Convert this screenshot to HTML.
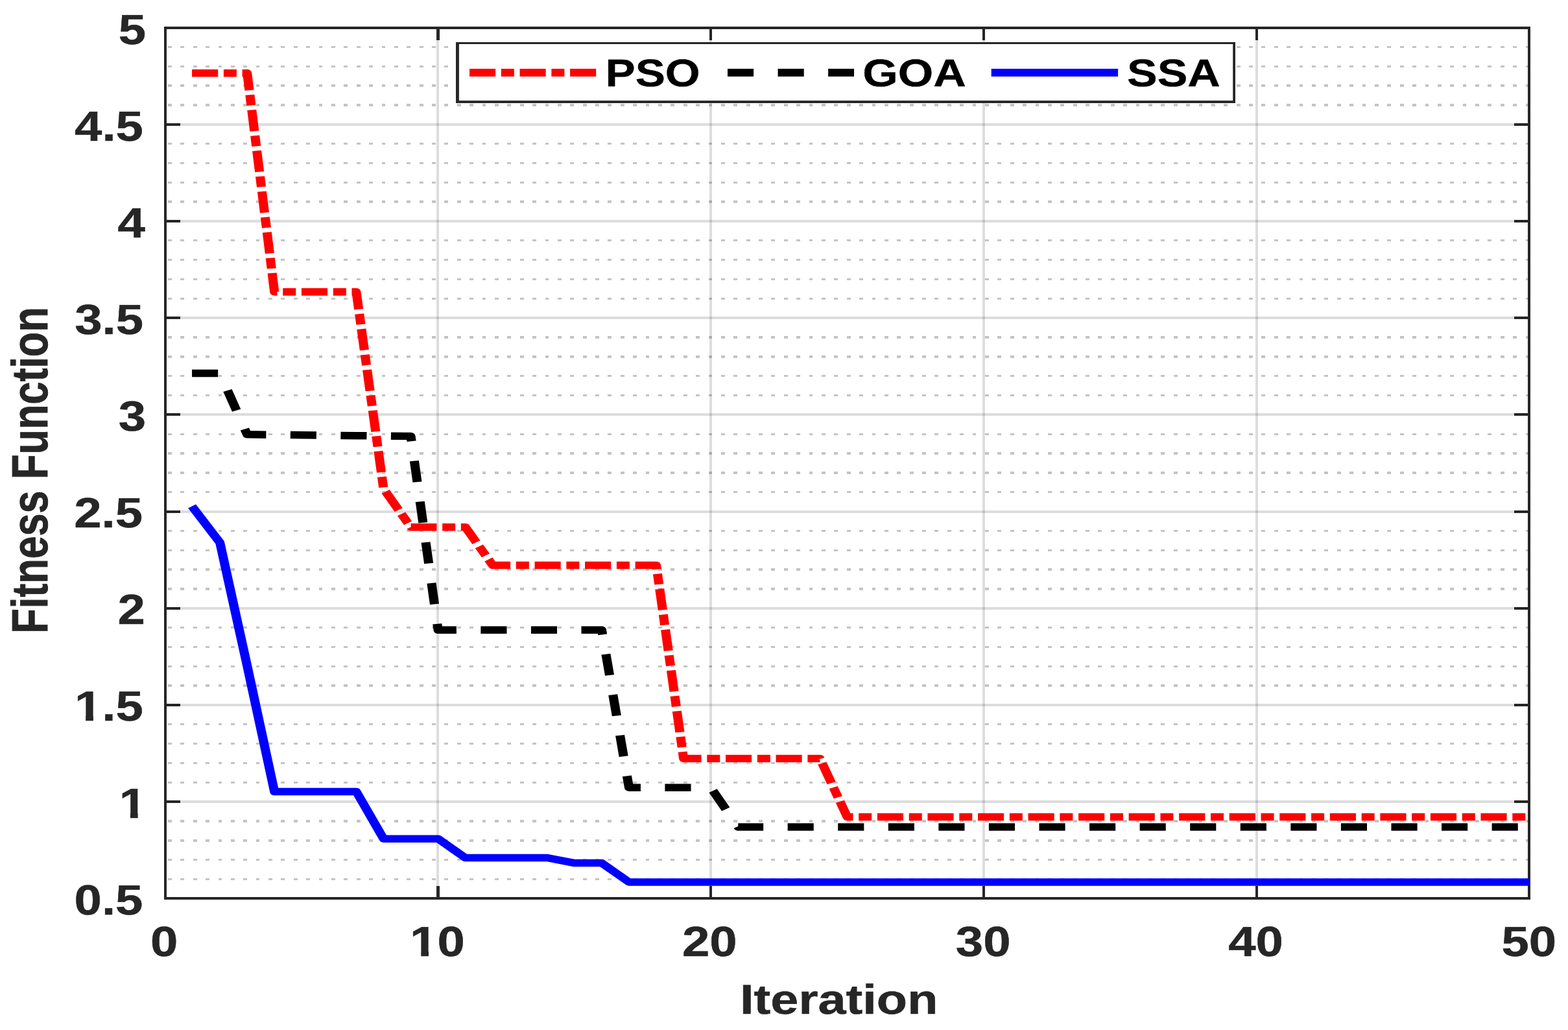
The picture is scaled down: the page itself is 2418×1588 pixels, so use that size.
<!DOCTYPE html>
<html lang="en"><head><meta charset="utf-8"><title>Fitness Function vs Iteration</title>
<style>html,body{margin:0;padding:0;background:#fff;}body{width:2418px;height:1588px;overflow:hidden;}svg{display:block;}text{font-family:"Liberation Sans",sans-serif;font-weight:bold;font-kerning:none;text-rendering:geometricPrecision;}</style>
</head><body>
<svg width="2418" height="1588" viewBox="0 0 2418 1588">
<rect x="0" y="0" width="2418" height="1588" fill="#ffffff"/>
<g stroke="#262626" stroke-opacity="0.27" stroke-dasharray="5.8 13.585" fill="none" shape-rendering="crispEdges">
<line x1="259" y1="1355.5" x2="2356" y2="1355.5" stroke-width="3"/>
<line x1="259" y1="1325.5" x2="2356" y2="1325.5" stroke-width="3"/>
<line x1="259" y1="1296.0" x2="2356" y2="1296.0" stroke-width="4"/>
<line x1="259" y1="1266.0" x2="2356" y2="1266.0" stroke-width="4"/>
<line x1="259" y1="1206.5" x2="2356" y2="1206.5" stroke-width="3"/>
<line x1="259" y1="1176.5" x2="2356" y2="1176.5" stroke-width="3"/>
<line x1="259" y1="1146.5" x2="2356" y2="1146.5" stroke-width="3"/>
<line x1="259" y1="1116.5" x2="2356" y2="1116.5" stroke-width="3"/>
<line x1="259" y1="1057.0" x2="2356" y2="1057.0" stroke-width="4"/>
<line x1="259" y1="1027.5" x2="2356" y2="1027.5" stroke-width="3"/>
<line x1="259" y1="997.5" x2="2356" y2="997.5" stroke-width="3"/>
<line x1="259" y1="967.5" x2="2356" y2="967.5" stroke-width="3"/>
<line x1="259" y1="908.0" x2="2356" y2="908.0" stroke-width="4"/>
<line x1="259" y1="878.0" x2="2356" y2="878.0" stroke-width="4"/>
<line x1="259" y1="848.5" x2="2356" y2="848.5" stroke-width="3"/>
<line x1="259" y1="818.5" x2="2356" y2="818.5" stroke-width="3"/>
<line x1="259" y1="758.5" x2="2356" y2="758.5" stroke-width="3"/>
<line x1="259" y1="729.0" x2="2356" y2="729.0" stroke-width="4"/>
<line x1="259" y1="699.0" x2="2356" y2="699.0" stroke-width="4"/>
<line x1="259" y1="669.5" x2="2356" y2="669.5" stroke-width="3"/>
<line x1="259" y1="609.5" x2="2356" y2="609.5" stroke-width="3"/>
<line x1="259" y1="579.5" x2="2356" y2="579.5" stroke-width="3"/>
<line x1="259" y1="550.0" x2="2356" y2="550.0" stroke-width="4"/>
<line x1="259" y1="520.0" x2="2356" y2="520.0" stroke-width="4"/>
<line x1="259" y1="460.5" x2="2356" y2="460.5" stroke-width="3"/>
<line x1="259" y1="430.5" x2="2356" y2="430.5" stroke-width="3"/>
<line x1="259" y1="400.5" x2="2356" y2="400.5" stroke-width="3"/>
<line x1="259" y1="370.5" x2="2356" y2="370.5" stroke-width="3"/>
<line x1="259" y1="311.0" x2="2356" y2="311.0" stroke-width="4"/>
<line x1="259" y1="281.5" x2="2356" y2="281.5" stroke-width="3"/>
<line x1="259" y1="251.5" x2="2356" y2="251.5" stroke-width="3"/>
<line x1="259" y1="221.5" x2="2356" y2="221.5" stroke-width="3"/>
<line x1="259" y1="162.0" x2="2356" y2="162.0" stroke-width="4"/>
<line x1="259" y1="132.0" x2="2356" y2="132.0" stroke-width="4"/>
<line x1="259" y1="102.5" x2="2356" y2="102.5" stroke-width="3"/>
<line x1="259" y1="72.5" x2="2356" y2="72.5" stroke-width="3"/>
</g>
<g stroke="#262626" stroke-opacity="0.155" fill="none" stroke-width="4">
<line x1="257" y1="1236.00" x2="2356" y2="1236.00"/>
<line x1="257" y1="1087.00" x2="2356" y2="1087.00"/>
<line x1="257" y1="938.00" x2="2356" y2="938.00"/>
<line x1="257" y1="789.00" x2="2356" y2="789.00"/>
<line x1="257" y1="639.00" x2="2356" y2="639.00"/>
<line x1="257" y1="490.00" x2="2356" y2="490.00"/>
<line x1="257" y1="341.00" x2="2356" y2="341.00"/>
<line x1="257" y1="192.00" x2="2356" y2="192.00"/>
<line x1="675.00" y1="45" x2="675.00" y2="1383"/>
<line x1="1096.00" y1="45" x2="1096.00" y2="1383"/>
<line x1="1517.00" y1="45" x2="1517.00" y2="1383"/>
<line x1="1938.00" y1="45" x2="1938.00" y2="1383"/>
</g>
<g stroke="#262626" fill="none" stroke-width="4">
<line x1="675.50" y1="1384" x2="675.50" y2="1366" stroke-width="5"/>
<line x1="675.50" y1="44" x2="675.50" y2="62" stroke-width="5"/>
<line x1="1096.00" y1="1384" x2="1096.00" y2="1366"/>
<line x1="1096.00" y1="44" x2="1096.00" y2="62"/>
<line x1="1517.00" y1="1384" x2="1517.00" y2="1366"/>
<line x1="1517.00" y1="44" x2="1517.00" y2="62"/>
<line x1="1938.00" y1="1384" x2="1938.00" y2="1366"/>
<line x1="1938.00" y1="44" x2="1938.00" y2="62"/>
<line x1="256" y1="1236.00" x2="278" y2="1236.00"/>
<line x1="2357" y1="1236.00" x2="2335" y2="1236.00"/>
<line x1="256" y1="1087.00" x2="278" y2="1087.00"/>
<line x1="2357" y1="1087.00" x2="2335" y2="1087.00"/>
<line x1="256" y1="938.00" x2="278" y2="938.00"/>
<line x1="2357" y1="938.00" x2="2335" y2="938.00"/>
<line x1="256" y1="789.00" x2="278" y2="789.00"/>
<line x1="2357" y1="789.00" x2="2335" y2="789.00"/>
<line x1="256" y1="639.00" x2="278" y2="639.00"/>
<line x1="2357" y1="639.00" x2="2335" y2="639.00"/>
<line x1="256" y1="490.00" x2="278" y2="490.00"/>
<line x1="2357" y1="490.00" x2="2335" y2="490.00"/>
<line x1="256" y1="341.00" x2="278" y2="341.00"/>
<line x1="2357" y1="341.00" x2="2335" y2="341.00"/>
<line x1="256" y1="192.00" x2="278" y2="192.00"/>
<line x1="2357" y1="192.00" x2="2335" y2="192.00"/>
</g>
<rect x="255" y="43" width="2103" height="1342" fill="none" stroke="#262626" stroke-width="4"/>
<g transform="scale(1.227,1)" fill="none" stroke-width="11.5" stroke-linejoin="round" stroke-linecap="butt">
<polyline stroke="#ff0000" stroke-dasharray="32.7 7.1 16.3 7.1" points="241.29,112.78 276.38,112.78 310.66,112.78 344.94,450.07 379.22,450.07 413.50,450.07 447.78,450.07 482.05,753.37 516.33,812.71 550.61,812.71 584.89,812.71 619.17,871.46 653.45,871.46 687.73,871.46 722.00,871.46 756.28,871.46 790.56,871.46 824.84,871.46 859.12,1169.39 893.40,1169.39 927.68,1169.39 961.96,1169.39 996.23,1169.39 1030.51,1169.39 1064.79,1259.54 1099.07,1259.54 1133.35,1259.54 1167.63,1259.54 1201.91,1259.54 1236.19,1259.54 1270.46,1259.54 1304.74,1259.54 1339.02,1259.54 1373.30,1259.54 1407.58,1259.54 1441.86,1259.54 1476.14,1259.54 1510.42,1259.54 1544.69,1259.54 1578.97,1259.54 1613.25,1259.54 1647.53,1259.54 1681.81,1259.54 1716.09,1259.54 1750.37,1259.54 1784.65,1259.54 1818.92,1259.54 1853.20,1259.54 1887.48,1259.54 1922.58,1259.54"/>
<polyline stroke="#000000" stroke-dasharray="32.7 30.52" points="241.29,575.62 276.38,575.62 310.66,669.86 344.94,670.31 379.22,670.76 413.50,671.21 447.78,671.65 482.05,672.10 516.33,672.55 550.61,971.37 584.89,971.37 619.17,971.37 653.45,971.37 687.73,971.37 722.00,971.37 756.28,971.37 790.56,1214.27 824.84,1214.27 859.12,1214.27 893.40,1214.27 927.68,1274.99 961.96,1274.99 996.23,1274.99 1030.51,1274.99 1064.79,1274.99 1099.07,1274.99 1133.35,1274.99 1167.63,1274.99 1201.91,1274.99 1236.19,1274.99 1270.46,1274.99 1304.74,1274.99 1339.02,1274.99 1373.30,1274.99 1407.58,1274.99 1441.86,1274.99 1476.14,1274.99 1510.42,1274.99 1544.69,1274.99 1578.97,1274.99 1613.25,1274.99 1647.53,1274.99 1681.81,1274.99 1716.09,1274.99 1750.37,1274.99 1784.65,1274.99 1818.92,1274.99 1853.20,1274.99 1887.48,1274.99 1922.58,1274.99"/>
<polyline stroke="#0000ff" points="241.29,780.50 276.38,836.57 310.66,1026.54 344.94,1220.38 379.22,1220.38 413.50,1220.38 447.78,1220.38 482.05,1293.15 516.33,1293.15 550.61,1293.15 584.89,1322.52 619.17,1322.52 653.45,1322.52 687.73,1322.52 722.00,1330.54 756.28,1330.54 790.56,1360.01 824.84,1360.01 859.12,1360.01 893.40,1360.01 927.68,1360.01 961.96,1360.01 996.23,1360.01 1030.51,1360.01 1064.79,1360.01 1099.07,1360.01 1133.35,1360.01 1167.63,1360.01 1201.91,1360.01 1236.19,1360.01 1270.46,1360.01 1304.74,1360.01 1339.02,1360.01 1373.30,1360.01 1407.58,1360.01 1441.86,1360.01 1476.14,1360.01 1510.42,1360.01 1544.69,1360.01 1578.97,1360.01 1613.25,1360.01 1647.53,1360.01 1681.81,1360.01 1716.09,1360.01 1750.37,1360.01 1784.65,1360.01 1818.92,1360.01 1853.20,1360.01 1887.48,1360.01 1922.58,1360.01"/>
</g>
<rect x="703" y="65" width="1202" height="94" fill="#262626"/>
<rect x="707.9" y="68" width="1193.3" height="87.1" fill="#ffffff"/>
<g transform="scale(1.227,1)" fill="none" stroke-width="12" stroke-linecap="butt">
<line x1="590.06" y1="112" x2="749.14" y2="112" stroke="#ff0000" stroke-dasharray="32.7 7.1 16.3 7.1"/>
<line x1="914.43" y1="112" x2="1073.35" y2="112" stroke="#000000" stroke-dasharray="32.7 30.52"/>
<line x1="1245.88" y1="112" x2="1405.13" y2="112" stroke="#0000ff"/>
</g>
<text transform="translate(933.50,133.00) scale(1.1633,1)" font-size="59.5" fill="#000000" stroke="#000000" stroke-width="0.4" stroke-linejoin="miter">PSO</text>
<text transform="translate(1330.26,133.00) scale(1.1765,1)" font-size="59.5" fill="#000000" stroke="#000000" stroke-width="0.4" stroke-linejoin="miter">GOA</text>
<text transform="translate(1738.12,133.00) scale(1.1745,1)" font-size="59.5" fill="#000000" stroke="#000000" stroke-width="0.4" stroke-linejoin="miter">SSA</text>
<text transform="translate(182.71,68.00) scale(1.1680,1)" font-size="65.2" fill="#262626" stroke="#262626" stroke-width="0.5" stroke-linejoin="miter">5</text>
<text transform="translate(115.10,217.00) scale(1.1680,1)" font-size="65.2" fill="#262626" stroke="#262626" stroke-width="0.5" stroke-linejoin="miter">4.5</text>
<text transform="translate(181.45,366.00) scale(1.1680,1)" font-size="65.2" fill="#262626" stroke="#262626" stroke-width="0.5" stroke-linejoin="miter">4</text>
<text transform="translate(115.20,515.00) scale(1.1680,1)" font-size="65.2" fill="#262626" stroke="#262626" stroke-width="0.5" stroke-linejoin="miter">3.5</text>
<text transform="translate(182.78,664.00) scale(1.1680,1)" font-size="65.2" fill="#262626" stroke="#262626" stroke-width="0.5" stroke-linejoin="miter">3</text>
<text transform="translate(114.26,813.00) scale(1.1680,1)" font-size="65.2" fill="#262626" stroke="#262626" stroke-width="0.5" stroke-linejoin="miter">2.5</text>
<text transform="translate(181.43,962.00) scale(1.1680,1)" font-size="65.2" fill="#262626" stroke="#262626" stroke-width="0.5" stroke-linejoin="miter">2</text>
<clipPath id="c1">
<rect x="-10" y="-78.24" width="46.26" height="71.04"/>
<rect x="14.67" y="-9.20" width="10.05" height="11.70"/>
<rect x="36.26" y="-78.24" width="64.38" height="104.32"/>
</clipPath>
<text transform="translate(115.02,1111.00) scale(1.1680,1)" font-size="65.2" fill="#262626" stroke="#262626" stroke-width="0.5" stroke-linejoin="miter" clip-path="url(#c1)">1.5</text>
<clipPath id="c2">
<rect x="-10" y="-78.24" width="46.26" height="71.04"/>
<rect x="14.67" y="-9.20" width="10.05" height="11.70"/>
</clipPath>
<text transform="translate(183.79,1261.00) scale(1.1680,1)" font-size="65.2" fill="#262626" stroke="#262626" stroke-width="0.5" stroke-linejoin="miter" clip-path="url(#c2)">1</text>
<text transform="translate(114.57,1410.00) scale(1.1680,1)" font-size="65.2" fill="#262626" stroke="#262626" stroke-width="0.5" stroke-linejoin="miter">0.5</text>
<text transform="translate(231.93,1474.00) scale(1.1680,1)" font-size="65.2" fill="#262626" stroke="#262626" stroke-width="0.5" stroke-linejoin="miter">0</text>
<clipPath id="c3">
<rect x="-10" y="-78.24" width="46.26" height="71.04"/>
<rect x="14.67" y="-9.20" width="10.05" height="11.70"/>
<rect x="36.26" y="-78.24" width="46.26" height="104.32"/>
</clipPath>
<text transform="translate(632.11,1474.00) scale(1.1680,1)" font-size="65.2" fill="#262626" stroke="#262626" stroke-width="0.5" stroke-linejoin="miter" clip-path="url(#c3)">10</text>
<text transform="translate(1051.89,1474.00) scale(1.1680,1)" font-size="65.2" fill="#262626" stroke="#262626" stroke-width="0.5" stroke-linejoin="miter">20</text>
<text transform="translate(1473.83,1474.00) scale(1.1680,1)" font-size="65.2" fill="#262626" stroke="#262626" stroke-width="0.5" stroke-linejoin="miter">30</text>
<text transform="translate(1894.13,1474.00) scale(1.1680,1)" font-size="65.2" fill="#262626" stroke="#262626" stroke-width="0.5" stroke-linejoin="miter">40</text>
<text transform="translate(2315.44,1474.00) scale(1.1680,1)" font-size="65.2" fill="#262626" stroke="#262626" stroke-width="0.5" stroke-linejoin="miter">50</text>
<text transform="translate(1141.07,1563.00) scale(1.2060,1)" font-size="64.2" fill="#262626" stroke="#262626" stroke-width="0.5" stroke-linejoin="miter">Iteration</text>
<text transform="translate(73.46,976.76) scale(1.245,1) rotate(-90)" font-size="62.95" fill="#262626" stroke="#262626" stroke-width="0.7">Fitness Function</text>
</svg>
</body></html>
